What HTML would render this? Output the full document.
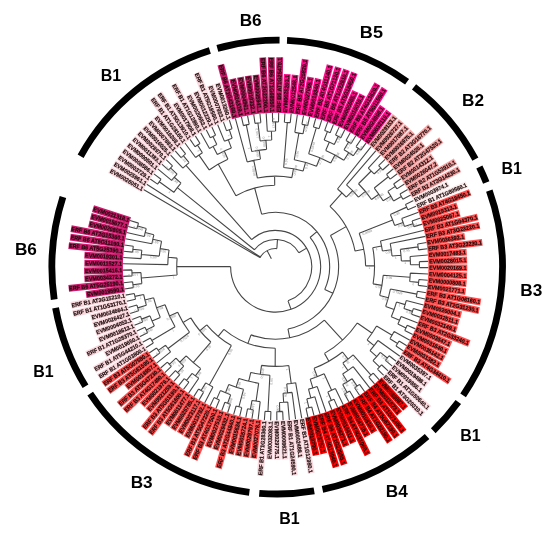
<!DOCTYPE html>
<html><head><meta charset="utf-8"><style>
html,body{margin:0;padding:0;background:#fff;}
svg{display:block;}
#w{width:550px;height:535px;}
</style></head><body><div id="w">
<svg width="550" height="535" viewBox="0 0 550 535">
<rect width="550" height="535" fill="#fff"/>
<g>
<g fill="none" stroke="#464646" stroke-width="1.1" transform="translate(275.65,266.75) scale(1,1.0072)">
<path d="M-118.09,-82.06A143.80,143.80 0 0 1 -114.63,-86.83M-118.09,-82.06L-125.44,-87.17M-114.63,-86.83L-121.76,-92.23M-107.14,-95.92A143.80,143.80 0 0 1 -103.12,-100.23M-107.14,-95.92L-113.80,-101.89M-103.12,-100.23L-109.54,-106.46M-104.05,-85.74A134.82,134.82 0 0 1 -98.58,-91.97M-104.05,-85.74L-117.88,-97.14M-98.58,-91.97L-105.15,-98.09M-101.85,-73.91A125.84,125.84 0 0 1 -94.61,-82.97M-101.85,-73.91L-116.38,-84.46M-94.61,-82.97L-101.36,-88.89M-94.57,-108.33A143.80,143.80 0 0 1 -90.05,-112.11M-94.57,-108.33L-100.45,-115.07M-90.05,-112.11L-95.66,-119.09M-92.75,-97.85A134.82,134.82 0 0 1 -86.56,-103.36M-92.75,-97.85L-105.08,-110.86M-86.56,-103.36L-92.33,-110.24M-80.57,-119.11A143.80,143.80 0 0 1 -75.63,-122.31M-80.57,-119.11L-85.59,-126.52M-75.63,-122.31L-80.33,-129.92M-80.05,-108.48A134.82,134.82 0 0 1 -73.24,-113.19M-80.05,-108.48L-90.70,-122.91M-73.24,-113.19L-78.12,-120.73M-65.36,-128.09A143.80,143.80 0 0 1 -60.06,-130.66M-65.36,-128.09L-69.43,-136.06M-60.06,-130.66L-63.80,-138.79M-66.15,-117.48A134.82,134.82 0 0 1 -58.81,-121.32M-66.15,-117.48L-74.94,-133.10M-58.81,-121.32L-62.72,-129.40M-49.16,-135.13A143.80,143.80 0 0 1 -43.59,-137.03M-49.16,-135.13L-52.22,-143.54M-43.59,-137.03L-46.30,-145.56M-51.25,-124.70A134.82,134.82 0 0 1 -43.49,-127.61M-51.25,-124.70L-58.06,-141.29M-43.49,-127.61L-46.39,-136.11M-58.34,-111.50A125.84,125.84 0 0 1 -44.23,-117.81M-58.34,-111.50L-62.51,-119.45M-44.23,-117.81L-47.39,-126.22M-66.47,-96.12A116.86,116.86 0 0 1 -47.72,-106.67M-66.47,-96.12L-76.68,-110.89M-47.72,-106.67L-51.39,-114.87M-32.23,-140.14A143.80,143.80 0 0 1 -26.46,-141.34M-32.23,-140.14L-34.23,-148.86M-26.46,-141.34L-28.11,-150.14M-20.65,-142.31A143.80,143.80 0 0 1 -14.80,-143.04M-20.65,-142.31L-21.93,-151.17M-14.80,-143.04L-15.72,-151.94M-3.04,-143.77A143.80,143.80 0 0 1 2.85,-143.77M-3.04,-143.77L-3.23,-152.72M2.85,-143.77L3.03,-152.72M-8.37,-134.56A134.82,134.82 0 0 1 -0.09,-134.82M-8.37,-134.56L-9.48,-152.46M-0.09,-134.82L-0.10,-143.80M-15.51,-124.88A125.84,125.84 0 0 1 -3.95,-125.78M-15.51,-124.88L-17.73,-142.70M-3.95,-125.78L-4.23,-134.75M-23.85,-114.40A116.86,116.86 0 0 1 -9.05,-116.51M-23.85,-114.40L-29.35,-140.77M-9.05,-116.51L-9.74,-125.46M-28.46,-104.06A107.88,107.88 0 0 1 -15.22,-106.80M-28.46,-104.06L-40.30,-147.34M-15.22,-106.80L-16.48,-115.69M8.73,-143.53A143.80,143.80 0 0 1 14.61,-143.06M8.73,-143.53L9.28,-152.47M14.61,-143.06L15.52,-151.96M26.27,-141.38A143.80,143.80 0 0 1 32.04,-140.19M26.27,-141.38L27.90,-150.18M32.04,-140.19L34.03,-148.91M19.18,-133.45A134.82,134.82 0 0 1 27.34,-132.02M19.18,-133.45L21.73,-151.20M27.34,-132.02L29.16,-140.81M37.75,-138.76A143.80,143.80 0 0 1 43.40,-137.09M37.75,-138.76L40.10,-147.39M43.40,-137.09L46.10,-145.63M48.98,-135.20A143.80,143.80 0 0 1 54.48,-133.08M48.98,-135.20L52.03,-143.62M54.48,-133.08L57.87,-141.36M59.88,-130.74A143.80,143.80 0 0 1 65.19,-128.18M59.88,-130.74L63.61,-138.87M65.19,-128.18L69.25,-136.15M48.51,-125.79A134.82,134.82 0 0 1 58.64,-121.40M48.51,-125.79L51.74,-134.17M58.64,-121.40L62.55,-129.48M70.38,-125.40A143.80,143.80 0 0 1 75.46,-122.41M70.38,-125.40L74.76,-133.20M75.46,-122.41L80.16,-130.03M80.41,-119.22A143.80,143.80 0 0 1 85.23,-115.82M80.41,-119.22L85.42,-126.64M85.23,-115.82L90.53,-123.03M68.38,-116.19A134.82,134.82 0 0 1 77.66,-110.20M68.38,-116.19L72.94,-123.93M77.66,-110.20L82.84,-117.54M50.05,-115.46A125.84,125.84 0 0 1 68.22,-105.75M50.05,-115.46L53.62,-123.70M68.22,-105.75L73.09,-113.29M32.98,-112.11A116.86,116.86 0 0 1 55.10,-103.06M32.98,-112.11L40.59,-137.95M55.10,-103.06L59.33,-110.97M18.62,-106.26A107.88,107.88 0 0 1 40.87,-99.84M18.62,-106.26L23.27,-132.80M40.87,-99.84L44.27,-108.15M8.03,-98.57A98.90,98.90 0 0 1 27.43,-95.02M8.03,-98.57L11.67,-143.33M27.43,-95.02L29.92,-103.65M-18.24,-88.05A89.92,89.92 0 0 1 16.20,-88.45M-18.24,-88.05L-21.88,-105.64M16.20,-88.45L17.82,-97.28M-39.71,-70.53A80.94,80.94 0 0 1 -0.94,-80.93M-39.71,-70.53L-57.34,-101.83M-0.94,-80.93L-1.04,-89.91M102.98,-100.36A143.80,143.80 0 0 1 107.01,-96.06M102.98,-100.36L109.39,-106.61M107.01,-96.06L113.67,-102.04M92.62,-97.97A134.82,134.82 0 0 1 98.46,-92.10M92.62,-97.97L104.93,-111.00M98.46,-92.10L105.02,-98.23M110.85,-91.60A143.80,143.80 0 0 1 114.51,-86.98M110.85,-91.60L117.75,-97.30M114.51,-86.98L121.64,-92.39M117.98,-82.22A143.80,143.80 0 0 1 121.25,-77.32M117.98,-82.22L125.32,-87.34M121.25,-77.32L128.79,-82.13M124.31,-72.29A143.80,143.80 0 0 1 127.17,-67.13M124.31,-72.29L132.05,-76.78M127.17,-67.13L135.08,-71.31M112.17,-74.80A134.82,134.82 0 0 1 117.91,-65.37M112.17,-74.80L119.64,-79.78M117.91,-65.37L125.77,-69.72M98.63,-78.15A125.84,125.84 0 0 1 107.47,-65.47M98.63,-78.15L112.70,-89.31M107.47,-65.47L115.14,-70.14M82.85,-82.41A116.86,116.86 0 0 1 95.88,-66.81M82.85,-82.41L95.58,-95.08M95.88,-66.81L103.24,-71.95M70.84,-81.37A107.88,107.88 0 0 1 82.81,-69.14M70.84,-81.37L100.30,-115.21M82.81,-69.14L89.70,-74.90M61.83,-77.19A98.90,98.90 0 0 1 70.65,-69.21M61.83,-77.19L95.50,-119.22M70.65,-69.21L77.07,-75.49M129.81,-61.87A143.80,143.80 0 0 1 132.24,-56.50M129.81,-61.87L137.89,-65.72M132.24,-56.50L140.47,-60.02M136.42,-45.49A143.80,143.80 0 0 1 138.17,-39.86M136.42,-45.49L144.91,-48.32M138.17,-39.86L146.76,-42.34M126.04,-47.85A134.82,134.82 0 0 1 128.74,-40.02M126.04,-47.85L142.81,-54.21M128.74,-40.02L137.32,-42.68M114.68,-51.80A125.84,125.84 0 0 1 118.96,-41.03M114.68,-51.80L131.05,-59.20M118.96,-41.03L127.45,-43.95M142.01,-22.62A143.80,143.80 0 0 1 142.82,-16.78M142.01,-22.62L150.85,-24.03M142.82,-16.78L151.71,-17.83M143.71,-5.04A143.80,143.80 0 0 1 143.80,0.85M143.71,-5.04L152.66,-5.35M143.80,0.85L152.75,0.91M134.43,-10.24A134.82,134.82 0 0 1 134.81,-1.96M134.43,-10.24L152.31,-11.60M134.81,-1.96L143.78,-2.09M124.65,-17.24A125.84,125.84 0 0 1 125.71,-5.70M124.65,-17.24L142.44,-19.71M125.71,-5.70L134.68,-6.10M114.56,-23.09A116.86,116.86 0 0 1 116.37,-10.66M114.56,-23.09L149.74,-30.19M116.37,-10.66L125.32,-11.48M104.79,-25.63A107.88,107.88 0 0 1 106.75,-15.60M104.79,-25.63L148.38,-36.29M106.75,-15.60L115.63,-16.90M143.25,12.62A143.80,143.80 0 0 1 142.61,18.48M143.25,12.62L152.16,13.41M142.61,18.48L151.48,19.63M134.67,6.32A134.82,134.82 0 0 1 134.03,14.58M134.67,6.32L152.58,7.16M134.03,14.58L142.96,15.55M141.73,24.30A143.80,143.80 0 0 1 140.62,30.09M141.73,24.30L150.55,25.82M140.62,30.09L149.37,31.96M137.68,41.50A143.80,143.80 0 0 1 135.87,47.10M137.68,41.50L146.25,44.08M135.87,47.10L144.32,50.03M130.57,33.59A134.82,134.82 0 0 1 128.26,41.54M130.57,33.59L147.93,38.05M128.26,41.54L136.80,44.31M131.56,58.06A143.80,143.80 0 0 1 129.07,63.40M131.56,58.06L139.74,61.68M129.07,63.40L137.10,67.35M125.47,49.34A134.82,134.82 0 0 1 122.20,56.95M125.47,49.34L142.15,55.90M122.20,56.95L130.34,60.75M120.85,35.08A125.84,125.84 0 0 1 115.64,49.63M120.85,35.08L129.48,37.58M115.64,49.63L123.89,53.17M114.75,22.11A116.86,116.86 0 0 1 110.02,39.41M114.75,22.11L141.20,27.20M110.02,39.41L118.47,42.43M107.56,8.37A107.88,107.88 0 0 1 104.05,28.48M107.56,8.37L134.41,10.46M104.05,28.48L112.72,30.85M97.07,-18.92A98.90,98.90 0 0 1 97.43,16.96M97.07,-18.92L105.89,-20.64M97.43,16.96L106.28,18.50M83.57,-33.20A89.92,89.92 0 0 1 89.92,-0.91M83.57,-33.20L116.95,-46.46M89.92,-0.91L98.89,-1.00M54.31,-60.01A80.94,80.94 0 0 1 79.42,-15.61M54.31,-60.01L66.36,-73.33M79.42,-15.61L88.23,-17.35M123.44,73.76A143.80,143.80 0 0 1 120.32,78.75M123.44,73.76L131.13,78.35M120.32,78.75L127.81,83.65M118.47,64.35A134.82,134.82 0 0 1 114.29,71.51M118.47,64.35L134.23,72.91M114.29,71.51L121.91,76.27M113.47,88.33A143.80,143.80 0 0 1 109.76,92.91M113.47,88.33L120.53,93.83M109.76,92.91L116.59,98.69M105.86,97.33A143.80,143.80 0 0 1 101.78,101.58M105.86,97.33L112.45,103.38M101.78,101.58L108.12,107.90M104.67,84.98A134.82,134.82 0 0 1 97.36,93.26M104.67,84.98L111.64,90.64M97.36,93.26L103.84,99.47M102.38,73.17A125.84,125.84 0 0 1 94.36,83.25M102.38,73.17L124.27,88.82M94.36,83.25L101.10,89.20M100.93,58.91A116.86,116.86 0 0 1 91.47,72.73M100.93,58.91L116.44,67.96M91.47,72.73L98.50,78.31M97.54,105.66A143.80,143.80 0 0 1 93.13,109.57M97.54,105.66L103.61,112.24M93.13,109.57L98.92,116.39M83.85,116.83A143.80,143.80 0 0 1 78.99,120.16M83.85,116.83L89.07,124.10M78.99,120.16L83.91,127.64M74.00,123.30A143.80,143.80 0 0 1 68.89,126.22M74.00,123.30L78.61,130.97M68.89,126.22L73.18,134.08M76.35,111.12A134.82,134.82 0 0 1 67.00,116.99M76.35,111.12L81.44,118.52M67.00,116.99L71.46,124.79M77.50,99.14A125.84,125.84 0 0 1 66.96,106.55M77.50,99.14L94.07,120.34M66.96,106.55L71.74,114.15M77.49,87.47A116.86,116.86 0 0 1 67.16,95.63M77.49,87.47L95.35,107.64M67.16,95.63L72.32,102.98M58.33,131.44A143.80,143.80 0 0 1 52.90,133.72M58.33,131.44L61.96,139.62M52.90,133.72L56.19,142.04M59.69,120.89A134.82,134.82 0 0 1 52.15,124.33M59.69,120.89L67.63,136.96M52.15,124.33L55.62,132.61M36.10,139.19A143.80,143.80 0 0 1 30.37,140.56M36.10,139.19L38.35,147.86M30.37,140.56L32.26,149.30M39.16,129.01A134.82,134.82 0 0 1 31.17,131.17M39.16,129.01L44.37,146.16M31.17,131.17L33.24,139.90M41.46,118.82A125.84,125.84 0 0 1 32.84,121.48M41.46,118.82L50.32,144.22M32.84,121.48L35.18,130.15M48.49,106.32A116.86,116.86 0 0 1 34.52,111.65M48.49,106.32L55.95,122.66M34.52,111.65L37.17,120.22M66.87,84.65A107.88,107.88 0 0 1 38.40,100.82M66.87,84.65L72.44,91.70M38.40,100.82L41.59,109.21M81.62,55.84A98.90,98.90 0 0 1 48.82,86.01M81.62,55.84L96.45,65.99M48.82,86.01L53.25,93.82M7.03,143.63A143.80,143.80 0 0 1 1.14,143.80M7.03,143.63L7.47,152.57M1.14,143.80L1.21,152.75M12.10,134.28A134.82,134.82 0 0 1 3.83,134.77M12.10,134.28L13.71,152.13M3.83,134.77L4.09,143.74M16.42,124.76A125.84,125.84 0 0 1 7.44,125.62M16.42,124.76L19.93,151.44M7.44,125.62L7.97,134.58M19.98,115.14A116.86,116.86 0 0 1 11.09,116.33M19.98,115.14L26.12,150.50M11.09,116.33L11.94,125.27M-4.75,143.72A143.80,143.80 0 0 1 -10.63,143.41M-4.75,143.72L-5.04,152.67M-10.63,143.41L-11.29,152.33M-22.33,142.06A143.80,143.80 0 0 1 -28.13,141.02M-22.33,142.06L-23.72,150.90M-28.13,141.02L-29.89,149.80M-15.47,133.93A134.82,134.82 0 0 1 -23.66,132.73M-15.47,133.93L-17.52,151.74M-23.66,132.73L-25.24,141.57M-33.89,139.75A143.80,143.80 0 0 1 -39.58,138.24M-33.89,139.75L-36.00,148.45M-39.58,138.24L-42.05,146.85M-45.21,136.51A143.80,143.80 0 0 1 -50.77,134.54M-45.21,136.51L-48.03,145.00M-50.77,134.54L-53.92,142.91M-56.23,132.35A143.80,143.80 0 0 1 -61.61,129.93M-56.23,132.35L-59.73,140.59M-61.61,129.93L-65.44,138.02M-45.00,127.09A134.82,134.82 0 0 1 -55.25,122.98M-45.00,127.09L-48.00,135.55M-55.25,122.98L-58.93,131.17M-32.15,121.66A125.84,125.84 0 0 1 -46.83,116.80M-32.15,121.66L-36.74,139.03M-46.83,116.80L-50.17,125.14M-16.97,115.62A116.86,116.86 0 0 1 -36.74,110.93M-16.97,115.62L-19.57,133.39M-36.74,110.93L-39.56,119.46M-5.77,107.73A107.88,107.88 0 0 1 -24.88,104.97M-5.77,107.73L-7.69,143.59M-24.88,104.97L-26.96,113.71M13.16,98.02A98.90,98.90 0 0 1 -14.11,97.89M13.16,98.02L15.54,115.82M-14.11,97.89L-15.39,106.78M-72.04,124.46A143.80,143.80 0 0 1 -77.07,121.40M-72.04,124.46L-76.52,132.20M-77.07,121.40L-81.87,128.96M-62.70,119.35A134.82,134.82 0 0 1 -69.91,115.28M-62.70,119.35L-71.04,135.23M-69.91,115.28L-74.57,122.95M-86.75,114.68A143.80,143.80 0 0 1 -91.38,111.04M-86.75,114.68L-92.15,121.82M-91.38,111.04L-97.06,117.95M-76.86,110.76A134.82,134.82 0 0 1 -83.52,105.83M-76.86,110.76L-87.08,125.50M-83.52,105.83L-89.08,112.88M-95.85,107.20A143.80,143.80 0 0 1 -100.16,103.18M-95.85,107.20L-101.81,113.87M-100.16,103.18L-106.39,109.61M-104.30,98.99A143.80,143.80 0 0 1 -108.27,94.64M-104.30,98.99L-110.79,105.16M-108.27,94.64L-115.01,100.53M-91.90,98.64A134.82,134.82 0 0 1 -99.67,90.79M-91.90,98.64L-98.02,105.21M-99.67,90.79L-106.31,96.84M-74.88,101.13A125.84,125.84 0 0 1 -89.48,88.48M-74.88,101.13L-80.23,108.35M-89.48,88.48L-95.87,94.80M-115.65,85.46A143.80,143.80 0 0 1 -119.05,80.65M-115.65,85.46L-122.85,90.78M-119.05,80.65L-126.46,85.67M-105.06,84.50A134.82,134.82 0 0 1 -110.05,77.89M-105.06,84.50L-119.03,95.73M-110.05,77.89L-117.38,83.07M-122.26,75.71A143.80,143.80 0 0 1 -125.26,70.64M-122.26,75.71L-129.87,80.42M-125.26,70.64L-133.05,75.03M-128.04,65.45A143.80,143.80 0 0 1 -130.62,60.15M-128.04,65.45L-136.01,69.52M-130.62,60.15L-138.75,63.89M-132.97,54.75A143.80,143.80 0 0 1 -135.10,49.25M-132.97,54.75L-141.25,58.15M-135.10,49.25L-143.51,52.32M-121.28,58.89A134.82,134.82 0 0 1 -125.69,48.76M-121.28,58.89L-129.36,62.81M-125.69,48.76L-134.06,52.01M-137.01,43.68A143.80,143.80 0 0 1 -138.68,38.03M-137.01,43.68L-145.53,46.40M-138.68,38.03L-147.31,40.40M-140.12,32.32A143.80,143.80 0 0 1 -141.33,26.55M-140.12,32.32L-148.84,34.33M-141.33,26.55L-150.12,28.20M-129.26,38.31A134.82,134.82 0 0 1 -131.96,27.60M-129.26,38.31L-137.87,40.86M-131.96,27.60L-140.75,29.44M-115.36,50.28A125.84,125.84 0 0 1 -122.02,30.79M-115.36,50.28L-123.59,53.87M-122.02,30.79L-130.72,32.98M-100.59,59.48A116.86,116.86 0 0 1 -110.59,37.77M-100.59,59.48L-123.78,73.19M-110.59,37.77L-119.09,40.67M-86.10,65.00A107.88,107.88 0 0 1 -97.99,45.12M-86.10,65.00L-107.60,81.23M-97.99,45.12L-106.15,48.88M-64.78,74.73A98.90,98.90 0 0 1 -84.87,50.77M-64.78,74.73L-82.43,95.09M-84.87,50.77L-92.58,55.38M-44.25,78.28A89.92,89.92 0 0 1 -68.90,57.78M-44.25,78.28L-66.34,117.37M-68.90,57.78L-75.78,63.55M-0.39,80.94A80.94,80.94 0 0 1 -51.75,62.23M-0.39,80.94L-0.48,98.90M-51.75,62.23L-57.49,69.14M48.71,52.97A71.96,71.96 0 0 1 -24.63,67.62M48.71,52.97L66.94,72.80M-24.63,67.62L-27.70,76.05M54.82,-31.00A62.98,62.98 0 0 1 12.33,61.76M54.82,-31.00L70.45,-39.84M12.33,61.76L14.09,70.57M-14.00,-52.15A54.00,54.00 0 0 1 49.10,22.49M-14.00,-52.15L-20.98,-78.17M49.10,22.49L57.26,26.23M-142.30,20.74A143.80,143.80 0 0 1 -143.03,14.89M-142.30,20.74L-151.15,22.03M-143.03,14.89L-151.93,15.82M-143.52,9.02A143.80,143.80 0 0 1 -143.77,3.14M-143.52,9.02L-152.45,9.58M-143.77,3.14L-152.71,3.33M-133.78,16.71A134.82,134.82 0 0 1 -134.70,5.70M-133.78,16.71L-142.69,17.82M-134.70,5.70L-143.67,6.08M-143.07,-14.51A143.80,143.80 0 0 1 -142.35,-20.36M-143.07,-14.51L-151.97,-15.42M-142.35,-20.36L-151.21,-21.63M-134.58,-8.10A134.82,134.82 0 0 1 -133.82,-16.35M-134.58,-8.10L-152.47,-9.18M-133.82,-16.35L-142.74,-17.44M-138.78,-37.66A143.80,143.80 0 0 1 -137.12,-43.31M-138.78,-37.66L-147.42,-40.00M-137.12,-43.31L-145.66,-46.01M-131.45,-29.95A134.82,134.82 0 0 1 -129.36,-37.97M-131.45,-29.95L-148.93,-33.93M-129.36,-37.97L-137.98,-40.50M-123.74,-22.91A125.84,125.84 0 0 1 -121.78,-31.71M-123.74,-22.91L-150.20,-27.80M-121.78,-31.71L-130.47,-33.97M-116.38,-10.60A116.86,116.86 0 0 1 -114.07,-25.38M-116.38,-10.60L-134.26,-12.23M-114.07,-25.38L-122.84,-27.33M-107.86,-2.07A107.88,107.88 0 0 1 -106.59,-16.64M-107.86,-2.07L-152.72,-2.93M-106.59,-16.64L-115.46,-18.03M-98.56,8.23A98.90,98.90 0 0 1 -98.53,-8.59M-98.56,8.23L-134.35,11.21M-98.53,-8.59L-107.47,-9.38M34.38,-29.06A45.02,45.02 0 1 1 -45.02,-0.08M34.38,-29.06L41.24,-34.86M-45.02,-0.08L-98.90,-0.18M-23.98,-26.91A36.04,36.04 0 1 1 12.36,33.86M-23.98,-26.91L-89.70,-100.65M12.36,33.86L15.43,42.29M-21.15,-16.89A27.06,27.06 0 0 1 23.22,-13.89M-21.15,-16.89L-98.33,-78.53M23.22,-13.89L30.93,-18.50M-15.64,-9.07A18.08,18.08 0 0 1 1.22,-18.04M-15.64,-9.07L-132.15,-76.61M-15.26,-9.70L-128.90,-81.95M1.22,-18.04L1.82,-27.00M-4.27,-8.03L-8.49,-15.96"/>
</g>
<g transform="translate(275.65,266.75) scale(1,1.0072)" font-family="Liberation Sans, Arial, sans-serif" font-size="3.3" fill="#8e8e8e">
<text transform="rotate(403.01)" x="-137.62" y="3.2" text-anchor="end">0.9998</text>
<text transform="rotate(395.97)" x="-128.64" y="3.2" text-anchor="end">1</text>
<text transform="rotate(401.25)" x="-128.64" y="3.2" text-anchor="end">0.99</text>
<text transform="rotate(410.05)" x="-137.62" y="3.2" text-anchor="end">0.99</text>
<text transform="rotate(417.10)" x="-137.62" y="3.2" text-anchor="end">1</text>
<text transform="rotate(431.18)" x="-137.62" y="3.2" text-anchor="end">1</text>
<text transform="rotate(425.90)" x="-119.66" y="3.2" text-anchor="end">0.7926</text>
<text transform="rotate(449.96)" x="-137.62" y="3.2" text-anchor="end">0.9977</text>
<text transform="rotate(442.92)" x="-128.64" y="3.2" text-anchor="end">0.9977</text>
<text transform="rotate(448.20)" x="-128.64" y="3.2" text-anchor="end">1</text>
<text transform="rotate(438.22)" x="-119.66" y="3.2" text-anchor="end">1</text>
<text transform="rotate(445.56)" x="-119.66" y="3.2" text-anchor="end">0.9999</text>
<text transform="rotate(441.89)" x="-110.68" y="3.2" text-anchor="end">0.9999</text>
<text transform="rotate(281.70)" x="137.62" y="3.2">0.9977</text>
<text transform="rotate(295.78)" x="137.62" y="3.2">0.9977</text>
<text transform="rotate(300.48)" x="137.62" y="3.2">0.7926</text>
<text transform="rotate(305.17)" x="137.62" y="3.2">0.8848</text>
<text transform="rotate(302.83)" x="128.64" y="3.2">0.7926</text>
<text transform="rotate(286.39)" x="119.66" y="3.2">0.8848</text>
<text transform="rotate(298.13)" x="119.66" y="3.2">0.9998</text>
<text transform="rotate(279.94)" x="110.68" y="3.2">0.96</text>
<text transform="rotate(292.26)" x="110.68" y="3.2">0.7926</text>
<text transform="rotate(274.66)" x="101.70" y="3.2">0.95</text>
<text transform="rotate(286.10)" x="101.70" y="3.2">0.99</text>
<text transform="rotate(438.30)" x="-92.72" y="3.2" text-anchor="end">0.8848</text>
<text transform="rotate(280.38)" x="92.72" y="3.2">0.9998</text>
<text transform="rotate(316.91)" x="137.62" y="3.2">0.98</text>
<text transform="rotate(328.65)" x="128.64" y="3.2">0.96</text>
<text transform="rotate(325.13)" x="119.66" y="3.2">0.8848</text>
<text transform="rotate(320.14)" x="110.68" y="3.2">0.9998</text>
<text transform="rotate(315.59)" x="101.70" y="3.2">0.9998</text>
<text transform="rotate(342.73)" x="137.62" y="3.2">0.9977</text>
<text transform="rotate(335.69)" x="128.64" y="3.2">0.99</text>
<text transform="rotate(340.97)" x="128.64" y="3.2">0.98</text>
<text transform="rotate(352.12)" x="128.64" y="3.2">0.95</text>
<text transform="rotate(357.41)" x="128.64" y="3.2">1</text>
<text transform="rotate(354.76)" x="119.66" y="3.2">1</text>
<text transform="rotate(351.68)" x="110.68" y="3.2">0.98</text>
<text transform="rotate(366.21)" x="137.62" y="3.2">1</text>
<text transform="rotate(377.95)" x="137.62" y="3.2">0.96</text>
<text transform="rotate(376.19)" x="128.64" y="3.2">1</text>
<text transform="rotate(370.90)" x="119.66" y="3.2">0.7926</text>
<text transform="rotate(364.45)" x="110.68" y="3.2">0.96</text>
<text transform="rotate(375.31)" x="110.68" y="3.2">0.98</text>
<text transform="rotate(348.97)" x="101.70" y="3.2">1</text>
<text transform="rotate(369.88)" x="101.70" y="3.2">0.98</text>
<text transform="rotate(338.33)" x="92.72" y="3.2">0.9998</text>
<text transform="rotate(359.42)" x="92.72" y="3.2">1</text>
<text transform="rotate(399.07)" x="137.62" y="3.2">0.9999</text>
<text transform="rotate(398.49)" x="119.66" y="3.2">1</text>
<text transform="rotate(415.51)" x="137.62" y="3.2">0.9977</text>
<text transform="rotate(420.20)" x="137.62" y="3.2">0.9999</text>
<text transform="rotate(417.85)" x="128.64" y="3.2">0.8848</text>
<text transform="rotate(408.46)" x="119.66" y="3.2">1</text>
<text transform="rotate(414.92)" x="119.66" y="3.2">1</text>
<text transform="rotate(427.24)" x="137.62" y="3.2">1</text>
<text transform="rotate(436.63)" x="137.62" y="3.2">1</text>
<text transform="rotate(425.48)" x="119.66" y="3.2">1</text>
<text transform="rotate(411.69)" x="110.68" y="3.2">0.7926</text>
<text transform="rotate(429.15)" x="110.68" y="3.2">0.99</text>
<text transform="rotate(448.37)" x="137.62" y="3.2">0.99</text>
<text transform="rotate(444.56)" x="119.66" y="3.2">0.7926</text>
<text transform="rotate(640.11)" x="-137.62" y="3.2" text-anchor="end">0.9999</text>
<text transform="rotate(649.50)" x="-137.62" y="3.2" text-anchor="end">0.9998</text>
<text transform="rotate(644.80)" x="-128.64" y="3.2" text-anchor="end">0.96</text>
<text transform="rotate(651.85)" x="-128.64" y="3.2" text-anchor="end">0.96</text>
<text transform="rotate(648.33)" x="-119.66" y="3.2" text-anchor="end">0.99</text>
<text transform="rotate(633.07)" x="-110.68" y="3.2" text-anchor="end">0.95</text>
<text transform="rotate(442.36)" x="101.70" y="3.2">1</text>
<text transform="rotate(638.20)" x="-101.70" y="3.2" text-anchor="end">0.8848</text>
<text transform="rotate(661.24)" x="-137.62" y="3.2" text-anchor="end">0.95</text>
<text transform="rotate(668.28)" x="-137.62" y="3.2" text-anchor="end">1</text>
<text transform="rotate(672.97)" x="-137.62" y="3.2" text-anchor="end">0.98</text>
<text transform="rotate(677.67)" x="-137.62" y="3.2" text-anchor="end">0.99</text>
<text transform="rotate(666.52)" x="-128.64" y="3.2" text-anchor="end">0.98</text>
<text transform="rotate(675.32)" x="-128.64" y="3.2" text-anchor="end">0.9999</text>
<text transform="rotate(684.71)" x="-137.62" y="3.2" text-anchor="end">0.7926</text>
<text transform="rotate(694.10)" x="-137.62" y="3.2" text-anchor="end">0.8848</text>
<text transform="rotate(698.80)" x="-137.62" y="3.2" text-anchor="end">0.7926</text>
<text transform="rotate(703.49)" x="-137.62" y="3.2" text-anchor="end">0.7926</text>
<text transform="rotate(708.19)" x="-137.62" y="3.2" text-anchor="end">1</text>
<text transform="rotate(705.84)" x="-128.64" y="3.2" text-anchor="end">0.96</text>
<text transform="rotate(689.41)" x="-119.66" y="3.2" text-anchor="end">1</text>
<text transform="rotate(701.14)" x="-119.66" y="3.2" text-anchor="end">0.98</text>
<text transform="rotate(682.95)" x="-110.68" y="3.2" text-anchor="end">0.7926</text>
<text transform="rotate(695.27)" x="-110.68" y="3.2" text-anchor="end">0.9998</text>
<text transform="rotate(670.92)" x="-101.70" y="3.2" text-anchor="end">0.95</text>
<text transform="rotate(659.48)" x="-92.72" y="3.2" text-anchor="end">0.99</text>
<text transform="rotate(680.02)" x="-92.72" y="3.2" text-anchor="end">0.7926</text>
<text transform="rotate(712.88)" x="-137.62" y="3.2" text-anchor="end">0.96</text>
<text transform="rotate(717.58)" x="-137.62" y="3.2" text-anchor="end">0.9977</text>
<text transform="rotate(726.97)" x="-137.62" y="3.2" text-anchor="end">0.96</text>
<text transform="rotate(736.36)" x="-137.62" y="3.2" text-anchor="end">0.9998</text>
<text transform="rotate(734.60)" x="-128.64" y="3.2" text-anchor="end">0.99</text>
<text transform="rotate(725.21)" x="-119.66" y="3.2" text-anchor="end">0.99</text>
<text transform="rotate(732.54)" x="-119.66" y="3.2" text-anchor="end">0.95</text>
<text transform="rotate(728.87)" x="-110.68" y="3.2" text-anchor="end">0.96</text>
<text transform="rotate(715.23)" x="-101.70" y="3.2" text-anchor="end">1</text>
</g>
<g transform="translate(275.65,266.75) scale(1,1.0072)" font-family="Liberation Sans, Arial, sans-serif" font-weight="bold" font-size="5.7" fill="#1a0808" stroke="#1a0808" stroke-width="0.16">
<g transform="rotate(210.100)"><rect x="152.75" y="-3.4" width="38.84" height="6.8" fill="#f9d8de" stroke="none"/><text transform="rotate(180)" x="-153.55" y="2.05" text-anchor="end" textLength="37.27" lengthAdjust="spacingAndGlyphs">EVM0026051.1</text></g>
<g transform="rotate(212.447)"><rect x="152.75" y="-3.4" width="38.84" height="6.8" fill="#f9d8de" stroke="none"/><text transform="rotate(180)" x="-153.55" y="2.05" text-anchor="end" textLength="37.27" lengthAdjust="spacingAndGlyphs">EVM0025961.1</text></g>
<g transform="rotate(214.795)"><rect x="152.75" y="-3.4" width="38.84" height="6.8" fill="#f9d8de" stroke="none"/><text transform="rotate(180)" x="-153.55" y="2.05" text-anchor="end" textLength="37.27" lengthAdjust="spacingAndGlyphs">EVM0003729.1</text></g>
<g transform="rotate(217.142)"><rect x="152.75" y="-3.4" width="38.84" height="6.8" fill="#f9d8de" stroke="none"/><text transform="rotate(180)" x="-153.55" y="2.05" text-anchor="end" textLength="37.27" lengthAdjust="spacingAndGlyphs">EVM0008586.1</text></g>
<g transform="rotate(219.490)"><rect x="152.75" y="-3.4" width="38.84" height="6.8" fill="#f9d8de" stroke="none"/><text transform="rotate(180)" x="-153.55" y="2.05" text-anchor="end" textLength="37.27" lengthAdjust="spacingAndGlyphs">EVM0000501.1</text></g>
<g transform="rotate(221.838)"><rect x="152.75" y="-3.4" width="38.54" height="6.8" fill="#f9d8de" stroke="none"/><text transform="rotate(180)" x="-153.55" y="2.05" text-anchor="end" textLength="36.97" lengthAdjust="spacingAndGlyphs">EVM0011383.1</text></g>
<g transform="rotate(224.185)"><rect x="152.75" y="-3.4" width="38.84" height="6.8" fill="#f9d8de" stroke="none"/><text transform="rotate(180)" x="-153.55" y="2.05" text-anchor="end" textLength="37.27" lengthAdjust="spacingAndGlyphs">EVM0028970.1</text></g>
<g transform="rotate(226.532)"><rect x="152.75" y="-3.4" width="38.84" height="6.8" fill="#f9d8de" stroke="none"/><text transform="rotate(180)" x="-153.55" y="2.05" text-anchor="end" textLength="37.27" lengthAdjust="spacingAndGlyphs">EVM0016025.1</text></g>
<g transform="rotate(228.880)"><rect x="152.75" y="-3.4" width="38.84" height="6.8" fill="#f9d8de" stroke="none"/><text transform="rotate(180)" x="-153.55" y="2.05" text-anchor="end" textLength="37.27" lengthAdjust="spacingAndGlyphs">EVM0007883.1</text></g>
<g transform="rotate(231.227)"><rect x="152.75" y="-3.4" width="38.84" height="6.8" fill="#f9d8de" stroke="none"/><text transform="rotate(180)" x="-153.55" y="2.05" text-anchor="end" textLength="37.27" lengthAdjust="spacingAndGlyphs">EVM0016208.1</text></g>
<g transform="rotate(233.575)"><rect x="152.75" y="-3.4" width="55.32" height="6.8" fill="#f9d8de" stroke="none"/><text transform="rotate(180)" x="-153.55" y="2.05" text-anchor="end" textLength="54.08" lengthAdjust="spacingAndGlyphs">ERF B1 AT1G28160.1</text></g>
<g transform="rotate(235.922)"><rect x="152.75" y="-3.4" width="55.32" height="6.8" fill="#f9d8de" stroke="none"/><text transform="rotate(180)" x="-153.55" y="2.05" text-anchor="end" textLength="54.08" lengthAdjust="spacingAndGlyphs">ERF B1 AT5G13910.1</text></g>
<g transform="rotate(238.270)"><rect x="152.75" y="-3.4" width="38.84" height="6.8" fill="#f9d8de" stroke="none"/><text transform="rotate(180)" x="-153.55" y="2.05" text-anchor="end" textLength="37.27" lengthAdjust="spacingAndGlyphs">EVM0017908.1</text></g>
<g transform="rotate(240.618)"><rect x="152.75" y="-3.4" width="55.32" height="6.8" fill="#f9d8de" stroke="none"/><text transform="rotate(180)" x="-153.55" y="2.05" text-anchor="end" textLength="54.08" lengthAdjust="spacingAndGlyphs">ERF B1 AT1G12890.1</text></g>
<g transform="rotate(242.965)"><rect x="152.75" y="-3.4" width="38.84" height="6.8" fill="#f9d8de" stroke="none"/><text transform="rotate(180)" x="-153.55" y="2.05" text-anchor="end" textLength="37.27" lengthAdjust="spacingAndGlyphs">EVM0020653.1</text></g>
<g transform="rotate(245.312)"><rect x="152.75" y="-3.4" width="38.84" height="6.8" fill="#f9d8de" stroke="none"/><text transform="rotate(180)" x="-153.55" y="2.05" text-anchor="end" textLength="37.27" lengthAdjust="spacingAndGlyphs">EVM0012229.1</text></g>
<g transform="rotate(247.660)"><rect x="152.75" y="-3.4" width="55.32" height="6.8" fill="#f9d8de" stroke="none"/><text transform="rotate(180)" x="-153.55" y="2.05" text-anchor="end" textLength="54.08" lengthAdjust="spacingAndGlyphs">ERF B1 AT5G18560.1</text></g>
<g transform="rotate(250.007)"><rect x="152.75" y="-3.4" width="38.84" height="6.8" fill="#f9d8de" stroke="none"/><text transform="rotate(180)" x="-153.55" y="2.05" text-anchor="end" textLength="37.27" lengthAdjust="spacingAndGlyphs">EVM0007953.1</text></g>
<g transform="rotate(252.355)"><rect x="152.75" y="-3.4" width="38.84" height="6.8" fill="#f9d8de" stroke="none"/><text transform="rotate(180)" x="-153.55" y="2.05" text-anchor="end" textLength="37.27" lengthAdjust="spacingAndGlyphs">EVM0013260.1</text></g>
<g transform="rotate(254.702)"><rect x="152.75" y="-3.4" width="55.32" height="6.8" fill="#ca1b6c" stroke="none"/><text transform="rotate(180)" x="-153.55" y="2.05" text-anchor="end" textLength="54.08" lengthAdjust="spacingAndGlyphs">ERF B6 AT1G43160.1</text></g>
<g transform="rotate(257.050)"><rect x="152.75" y="-3.4" width="38.84" height="6.8" fill="#ca1b6c" stroke="none"/><text transform="rotate(180)" x="-153.55" y="2.05" text-anchor="end" textLength="37.27" lengthAdjust="spacingAndGlyphs">EVM0024319.1</text></g>
<g transform="rotate(259.397)"><rect x="152.75" y="-3.4" width="38.84" height="6.8" fill="#ca1b6c" stroke="none"/><text transform="rotate(180)" x="-153.55" y="2.05" text-anchor="end" textLength="37.27" lengthAdjust="spacingAndGlyphs">EVM0004961.1</text></g>
<g transform="rotate(261.745)"><rect x="152.75" y="-3.4" width="38.84" height="6.8" fill="#ca1b6c" stroke="none"/><text transform="rotate(180)" x="-153.55" y="2.05" text-anchor="end" textLength="37.27" lengthAdjust="spacingAndGlyphs">EVM0010332.1</text></g>
<g transform="rotate(264.092)"><rect x="152.75" y="-3.4" width="38.84" height="6.8" fill="#ca1b6c" stroke="none"/><text transform="rotate(180)" x="-153.55" y="2.05" text-anchor="end" textLength="37.27" lengthAdjust="spacingAndGlyphs">EVM0005941.1</text></g>
<g transform="rotate(266.440)"><rect x="152.75" y="-3.4" width="55.32" height="6.8" fill="#ca1b6c" stroke="none"/><text transform="rotate(180)" x="-153.55" y="2.05" text-anchor="end" textLength="54.08" lengthAdjust="spacingAndGlyphs">ERF B6 AT2G22200.1</text></g>
<g transform="rotate(268.788)"><rect x="152.75" y="-3.4" width="55.32" height="6.8" fill="#ca1b6c" stroke="none"/><text transform="rotate(180)" x="-153.55" y="2.05" text-anchor="end" textLength="54.08" lengthAdjust="spacingAndGlyphs">ERF B6 AT1G68550.1</text></g>
<g transform="rotate(271.135)"><rect x="152.75" y="-3.4" width="55.32" height="6.8" fill="#ca1b6c" stroke="none"/><text x="153.55" y="2.05" textLength="54.08" lengthAdjust="spacingAndGlyphs">ERF B6 AT1G25470.1</text></g>
<g transform="rotate(273.483)"><rect x="152.75" y="-3.4" width="38.84" height="6.8" fill="#fc0a8a" stroke="none"/><text x="153.55" y="2.05" textLength="37.27" lengthAdjust="spacingAndGlyphs">EVM0028203.1</text></g>
<g transform="rotate(275.830)"><rect x="152.75" y="-3.4" width="38.84" height="6.8" fill="#fc0a8a" stroke="none"/><text x="153.55" y="2.05" textLength="37.27" lengthAdjust="spacingAndGlyphs">EVM0012548.1</text></g>
<g transform="rotate(278.178)"><rect x="152.75" y="-3.4" width="55.32" height="6.8" fill="#fc0a8a" stroke="none"/><text x="153.55" y="2.05" textLength="54.08" lengthAdjust="spacingAndGlyphs">ERF B5 AT2G25820.1</text></g>
<g transform="rotate(280.525)"><rect x="152.75" y="-3.4" width="38.84" height="6.8" fill="#fc0a8a" stroke="none"/><text x="153.55" y="2.05" textLength="37.27" lengthAdjust="spacingAndGlyphs">EVM0027065.1</text></g>
<g transform="rotate(282.873)"><rect x="152.75" y="-3.4" width="38.84" height="6.8" fill="#fc0a8a" stroke="none"/><text x="153.55" y="2.05" textLength="37.27" lengthAdjust="spacingAndGlyphs">EVM0019340.1</text></g>
<g transform="rotate(285.220)"><rect x="152.75" y="-3.4" width="54.74" height="6.8" fill="#fc0a8a" stroke="none"/><text x="153.55" y="2.05" textLength="53.48" lengthAdjust="spacingAndGlyphs">ERF B5 AT4G11140.1</text></g>
<g transform="rotate(287.567)"><rect x="152.75" y="-3.4" width="55.03" height="6.8" fill="#fc0a8a" stroke="none"/><text x="153.55" y="2.05" textLength="53.78" lengthAdjust="spacingAndGlyphs">ERF B5 AT1G71130.1</text></g>
<g transform="rotate(289.915)"><rect x="152.75" y="-3.4" width="55.32" height="6.8" fill="#fc0a8a" stroke="none"/><text x="153.55" y="2.05" textLength="54.08" lengthAdjust="spacingAndGlyphs">ERF B5 AT1G22810.1</text></g>
<g transform="rotate(292.262)"><rect x="152.75" y="-3.4" width="55.32" height="6.8" fill="#fc0a8a" stroke="none"/><text x="153.55" y="2.05" textLength="54.08" lengthAdjust="spacingAndGlyphs">ERF B5 AT5G18450.1</text></g>
<g transform="rotate(294.610)"><rect x="152.75" y="-3.4" width="38.84" height="6.8" fill="#fc0a8a" stroke="none"/><text x="153.55" y="2.05" textLength="37.27" lengthAdjust="spacingAndGlyphs">EVM0005065.1</text></g>
<g transform="rotate(296.957)"><rect x="152.75" y="-3.4" width="38.84" height="6.8" fill="#fc0a8a" stroke="none"/><text x="153.55" y="2.05" textLength="37.27" lengthAdjust="spacingAndGlyphs">EVM0010010.1</text></g>
<g transform="rotate(299.305)"><rect x="152.75" y="-3.4" width="55.32" height="6.8" fill="#fc0a8a" stroke="none"/><text x="153.55" y="2.05" textLength="54.08" lengthAdjust="spacingAndGlyphs">ERF B5 AT4G13620.1</text></g>
<g transform="rotate(301.653)"><rect x="152.75" y="-3.4" width="55.03" height="6.8" fill="#fc0a8a" stroke="none"/><text x="153.55" y="2.05" textLength="53.78" lengthAdjust="spacingAndGlyphs">ERF B5 AT5G11590.1</text></g>
<g transform="rotate(304.000)"><rect x="152.75" y="-3.4" width="38.84" height="6.8" fill="#fc0a8a" stroke="none"/><text x="153.55" y="2.05" textLength="37.27" lengthAdjust="spacingAndGlyphs">EVM0024908.1</text></g>
<g transform="rotate(306.347)"><rect x="152.75" y="-3.4" width="38.54" height="6.8" fill="#fc0a8a" stroke="none"/><text x="153.55" y="2.05" textLength="36.97" lengthAdjust="spacingAndGlyphs">EVM0032119.1</text></g>
<g transform="rotate(308.695)"><rect x="152.75" y="-3.4" width="38.84" height="6.8" fill="#f6a3a3" stroke="none"/><text x="153.55" y="2.05" textLength="37.27" lengthAdjust="spacingAndGlyphs">EVM0029153.1</text></g>
<g transform="rotate(311.043)"><rect x="152.75" y="-3.4" width="38.84" height="6.8" fill="#f6a3a3" stroke="none"/><text x="153.55" y="2.05" textLength="37.27" lengthAdjust="spacingAndGlyphs">EVM0026727.1</text></g>
<g transform="rotate(313.390)"><rect x="152.75" y="-3.4" width="38.84" height="6.8" fill="#f6a3a3" stroke="none"/><text x="153.55" y="2.05" textLength="37.27" lengthAdjust="spacingAndGlyphs">EVM0017087.1</text></g>
<g transform="rotate(315.738)"><rect x="152.75" y="-3.4" width="38.84" height="6.8" fill="#f6a3a3" stroke="none"/><text x="153.55" y="2.05" textLength="37.27" lengthAdjust="spacingAndGlyphs">EVM0036975.1</text></g>
<g transform="rotate(318.085)"><rect x="152.75" y="-3.4" width="55.32" height="6.8" fill="#f6a3a3" stroke="none"/><text x="153.55" y="2.05" textLength="54.08" lengthAdjust="spacingAndGlyphs">ERF B2 AT3G16770.1</text></g>
<g transform="rotate(320.433)"><rect x="152.75" y="-3.4" width="38.84" height="6.8" fill="#f6a3a3" stroke="none"/><text x="153.55" y="2.05" textLength="37.27" lengthAdjust="spacingAndGlyphs">EVM0024520.1</text></g>
<g transform="rotate(322.780)"><rect x="152.75" y="-3.4" width="55.32" height="6.8" fill="#f6a3a3" stroke="none"/><text x="153.55" y="2.05" textLength="54.08" lengthAdjust="spacingAndGlyphs">ERF B2 AT2G47520.1</text></g>
<g transform="rotate(325.127)"><rect x="152.75" y="-3.4" width="38.84" height="6.8" fill="#f6a3a3" stroke="none"/><text x="153.55" y="2.05" textLength="37.27" lengthAdjust="spacingAndGlyphs">EVM0014312.1</text></g>
<g transform="rotate(327.475)"><rect x="152.75" y="-3.4" width="38.84" height="6.8" fill="#f6a3a3" stroke="none"/><text x="153.55" y="2.05" textLength="37.27" lengthAdjust="spacingAndGlyphs">EVM0026047.2</text></g>
<g transform="rotate(329.822)"><rect x="152.75" y="-3.4" width="55.32" height="6.8" fill="#f6a3a3" stroke="none"/><text x="153.55" y="2.05" textLength="54.08" lengthAdjust="spacingAndGlyphs">ERF B2 AT1G53910.1</text></g>
<g transform="rotate(332.170)"><rect x="152.75" y="-3.4" width="55.32" height="6.8" fill="#f6a3a3" stroke="none"/><text x="153.55" y="2.05" textLength="54.08" lengthAdjust="spacingAndGlyphs">ERF B2 AT3G14230.1</text></g>
<g transform="rotate(334.517)"><rect x="152.75" y="-3.4" width="38.84" height="6.8" fill="#fcebeb" stroke="none"/><text x="153.55" y="2.05" textLength="37.27" lengthAdjust="spacingAndGlyphs">EVM0003974.1</text></g>
<g transform="rotate(336.865)"><rect x="152.75" y="-3.4" width="55.32" height="6.8" fill="#fcebeb" stroke="none"/><text x="153.55" y="2.05" textLength="54.08" lengthAdjust="spacingAndGlyphs">ERF B1 AT1G80580.1</text></g>
<g transform="rotate(339.212)"><rect x="152.75" y="-3.4" width="55.32" height="6.8" fill="#ff4d4d" stroke="none"/><text x="153.55" y="2.05" textLength="54.08" lengthAdjust="spacingAndGlyphs">ERF B3 AT4G18450.1</text></g>
<g transform="rotate(341.560)"><rect x="152.75" y="-3.4" width="38.84" height="6.8" fill="#ff4d4d" stroke="none"/><text x="153.55" y="2.05" textLength="37.27" lengthAdjust="spacingAndGlyphs">EVM0019313.1</text></g>
<g transform="rotate(343.908)"><rect x="152.75" y="-3.4" width="38.84" height="6.8" fill="#ff4d4d" stroke="none"/><text x="153.55" y="2.05" textLength="37.27" lengthAdjust="spacingAndGlyphs">EVM0025097.1</text></g>
<g transform="rotate(346.255)"><rect x="152.75" y="-3.4" width="55.32" height="6.8" fill="#ff4d4d" stroke="none"/><text x="153.55" y="2.05" textLength="54.08" lengthAdjust="spacingAndGlyphs">ERF B3 AT1G04370.1</text></g>
<g transform="rotate(348.602)"><rect x="152.75" y="-3.4" width="55.32" height="6.8" fill="#ff4d4d" stroke="none"/><text x="153.55" y="2.05" textLength="54.08" lengthAdjust="spacingAndGlyphs">ERF B3 AT3G23220.1</text></g>
<g transform="rotate(350.950)"><rect x="152.75" y="-3.4" width="38.84" height="6.8" fill="#ff4d4d" stroke="none"/><text x="153.55" y="2.05" textLength="37.27" lengthAdjust="spacingAndGlyphs">EVM0036392.1</text></g>
<g transform="rotate(353.298)"><rect x="152.75" y="-3.4" width="55.32" height="6.8" fill="#ff4d4d" stroke="none"/><text x="153.55" y="2.05" textLength="54.08" lengthAdjust="spacingAndGlyphs">ERF B3 AT3G23230.1</text></g>
<g transform="rotate(355.645)"><rect x="152.75" y="-3.4" width="38.84" height="6.8" fill="#ff4d4d" stroke="none"/><text x="153.55" y="2.05" textLength="37.27" lengthAdjust="spacingAndGlyphs">EVM0017483.1</text></g>
<g transform="rotate(357.993)"><rect x="152.75" y="-3.4" width="38.84" height="6.8" fill="#ff4d4d" stroke="none"/><text x="153.55" y="2.05" textLength="37.27" lengthAdjust="spacingAndGlyphs">EVM0028015.1</text></g>
<g transform="rotate(360.340)"><rect x="152.75" y="-3.4" width="38.84" height="6.8" fill="#ff4d4d" stroke="none"/><text x="153.55" y="2.05" textLength="37.27" lengthAdjust="spacingAndGlyphs">EVM0020169.1</text></g>
<g transform="rotate(362.688)"><rect x="152.75" y="-3.4" width="38.84" height="6.8" fill="#ff4d4d" stroke="none"/><text x="153.55" y="2.05" textLength="37.27" lengthAdjust="spacingAndGlyphs">EVM0004125.1</text></g>
<g transform="rotate(365.035)"><rect x="152.75" y="-3.4" width="38.84" height="6.8" fill="#ff4d4d" stroke="none"/><text x="153.55" y="2.05" textLength="37.27" lengthAdjust="spacingAndGlyphs">EVM0000808.1</text></g>
<g transform="rotate(367.382)"><rect x="152.75" y="-3.4" width="38.84" height="6.8" fill="#ff4d4d" stroke="none"/><text x="153.55" y="2.05" textLength="37.27" lengthAdjust="spacingAndGlyphs">EVM0021771.1</text></g>
<g transform="rotate(369.730)"><rect x="152.75" y="-3.4" width="55.32" height="6.8" fill="#ff4d4d" stroke="none"/><text x="153.55" y="2.05" textLength="54.08" lengthAdjust="spacingAndGlyphs">ERF B3 AT1G06160.1</text></g>
<g transform="rotate(372.077)"><rect x="152.75" y="-3.4" width="55.32" height="6.8" fill="#ff4d4d" stroke="none"/><text x="153.55" y="2.05" textLength="54.08" lengthAdjust="spacingAndGlyphs">ERF B3 AT2G31230.1</text></g>
<g transform="rotate(374.425)"><rect x="152.75" y="-3.4" width="38.84" height="6.8" fill="#ff4d4d" stroke="none"/><text x="153.55" y="2.05" textLength="37.27" lengthAdjust="spacingAndGlyphs">EVM0026004.1</text></g>
<g transform="rotate(376.773)"><rect x="152.75" y="-3.4" width="38.54" height="6.8" fill="#ff4d4d" stroke="none"/><text x="153.55" y="2.05" textLength="36.97" lengthAdjust="spacingAndGlyphs">EVM0032511.1</text></g>
<g transform="rotate(379.120)"><rect x="152.75" y="-3.4" width="38.84" height="6.8" fill="#ff4d4d" stroke="none"/><text x="153.55" y="2.05" textLength="37.27" lengthAdjust="spacingAndGlyphs">EVM0032149.1</text></g>
<g transform="rotate(381.467)"><rect x="152.75" y="-3.4" width="55.32" height="6.8" fill="#ff4d4d" stroke="none"/><text x="153.55" y="2.05" textLength="54.08" lengthAdjust="spacingAndGlyphs">ERF B3 AT2G33240.1</text></g>
<g transform="rotate(383.815)"><rect x="152.75" y="-3.4" width="38.84" height="6.8" fill="#ff4d4d" stroke="none"/><text x="153.55" y="2.05" textLength="37.27" lengthAdjust="spacingAndGlyphs">EVM0003547.1</text></g>
<g transform="rotate(386.163)"><rect x="152.75" y="-3.4" width="38.84" height="6.8" fill="#ff4d4d" stroke="none"/><text x="153.55" y="2.05" textLength="37.27" lengthAdjust="spacingAndGlyphs">EVM0031840.1</text></g>
<g transform="rotate(388.510)"><rect x="152.75" y="-3.4" width="38.84" height="6.8" fill="#ff4d4d" stroke="none"/><text x="153.55" y="2.05" textLength="37.27" lengthAdjust="spacingAndGlyphs">EVM0035142.1</text></g>
<g transform="rotate(390.858)"><rect x="152.75" y="-3.4" width="38.84" height="6.8" fill="#ff4d4d" stroke="none"/><text x="153.55" y="2.05" textLength="37.27" lengthAdjust="spacingAndGlyphs">EVM0031382.1</text></g>
<g transform="rotate(393.205)"><rect x="152.75" y="-3.4" width="55.32" height="6.8" fill="#ff4d4d" stroke="none"/><text x="153.55" y="2.05" textLength="54.08" lengthAdjust="spacingAndGlyphs">ERF B3 AT4G34410.1</text></g>
<g transform="rotate(395.553)"><rect x="152.75" y="-3.4" width="38.84" height="6.8" fill="#f9d8de" stroke="none"/><text x="153.55" y="2.05" textLength="37.27" lengthAdjust="spacingAndGlyphs">EVM0035397.1</text></g>
<g transform="rotate(397.900)"><rect x="152.75" y="-3.4" width="38.84" height="6.8" fill="#f9d8de" stroke="none"/><text x="153.55" y="2.05" textLength="37.27" lengthAdjust="spacingAndGlyphs">EVM0019498.1</text></g>
<g transform="rotate(400.248)"><rect x="152.75" y="-3.4" width="38.84" height="6.8" fill="#f9d8de" stroke="none"/><text x="153.55" y="2.05" textLength="37.27" lengthAdjust="spacingAndGlyphs">EVM0019856.1</text></g>
<g transform="rotate(402.595)"><rect x="152.75" y="-3.4" width="55.32" height="6.8" fill="#f9d8de" stroke="none"/><text x="153.55" y="2.05" textLength="54.08" lengthAdjust="spacingAndGlyphs">ERF B1 AT1G50640.1</text></g>
<g transform="rotate(404.942)"><rect x="152.75" y="-3.4" width="55.32" height="6.8" fill="#f9d8de" stroke="none"/><text x="153.55" y="2.05" textLength="54.08" lengthAdjust="spacingAndGlyphs">ERF B1 AT3G20310.1</text></g>
<g transform="rotate(407.290)"><rect x="152.75" y="-3.4" width="38.84" height="6.8" fill="#ff0000" stroke="none"/><text x="153.55" y="2.05" textLength="37.27" lengthAdjust="spacingAndGlyphs">EVM0033087.1</text></g>
<g transform="rotate(409.638)"><rect x="152.75" y="-3.4" width="38.54" height="6.8" fill="#ff0000" stroke="none"/><text x="153.55" y="2.05" textLength="36.97" lengthAdjust="spacingAndGlyphs">EVM0011573.1</text></g>
<g transform="rotate(411.985)"><rect x="152.75" y="-3.4" width="55.32" height="6.8" fill="#ff0000" stroke="none"/><text x="153.55" y="2.05" textLength="54.08" lengthAdjust="spacingAndGlyphs">ERF B4 AT1G71450.1</text></g>
<g transform="rotate(414.332)"><rect x="152.75" y="-3.4" width="55.32" height="6.8" fill="#ff0000" stroke="none"/><text x="153.55" y="2.05" textLength="54.08" lengthAdjust="spacingAndGlyphs">ERF B4 AT5G67190.1</text></g>
<g transform="rotate(416.680)"><rect x="152.75" y="-3.4" width="55.32" height="6.8" fill="#ff0000" stroke="none"/><text x="153.55" y="2.05" textLength="54.08" lengthAdjust="spacingAndGlyphs">ERF B4 AT1G22190.1</text></g>
<g transform="rotate(419.028)"><rect x="152.75" y="-3.4" width="38.84" height="6.8" fill="#ff0000" stroke="none"/><text x="153.55" y="2.05" textLength="37.27" lengthAdjust="spacingAndGlyphs">EVM0010816.1</text></g>
<g transform="rotate(421.375)"><rect x="152.75" y="-3.4" width="38.84" height="6.8" fill="#ff0000" stroke="none"/><text x="153.55" y="2.05" textLength="37.27" lengthAdjust="spacingAndGlyphs">EVM0024716.1</text></g>
<g transform="rotate(423.722)"><rect x="152.75" y="-3.4" width="55.32" height="6.8" fill="#ff0000" stroke="none"/><text x="153.55" y="2.05" textLength="54.08" lengthAdjust="spacingAndGlyphs">ERF B4 AT4G31060.1</text></g>
<g transform="rotate(426.070)"><rect x="152.75" y="-3.4" width="38.54" height="6.8" fill="#ff0000" stroke="none"/><text x="153.55" y="2.05" textLength="36.97" lengthAdjust="spacingAndGlyphs">EVM0016411.1</text></g>
<g transform="rotate(428.418)"><rect x="152.75" y="-3.4" width="38.84" height="6.8" fill="#ff0000" stroke="none"/><text x="153.55" y="2.05" textLength="37.27" lengthAdjust="spacingAndGlyphs">EVM0034271.1</text></g>
<g transform="rotate(430.765)"><rect x="152.75" y="-3.4" width="55.32" height="6.8" fill="#ff0000" stroke="none"/><text x="153.55" y="2.05" textLength="54.08" lengthAdjust="spacingAndGlyphs">ERF B4 AT1G22985.1</text></g>
<g transform="rotate(433.113)"><rect x="152.75" y="-3.4" width="55.32" height="6.8" fill="#ff0000" stroke="none"/><text x="153.55" y="2.05" textLength="54.08" lengthAdjust="spacingAndGlyphs">ERF B4 AT4G13040.1</text></g>
<g transform="rotate(435.460)"><rect x="152.75" y="-3.4" width="38.84" height="6.8" fill="#ff0000" stroke="none"/><text x="153.55" y="2.05" textLength="37.27" lengthAdjust="spacingAndGlyphs">EVM0023767.1</text></g>
<g transform="rotate(437.808)"><rect x="152.75" y="-3.4" width="38.84" height="6.8" fill="#ff0000" stroke="none"/><text x="153.55" y="2.05" textLength="37.27" lengthAdjust="spacingAndGlyphs">EVM0018790.1</text></g>
<g transform="rotate(440.155)"><rect x="152.75" y="-3.4" width="55.32" height="6.8" fill="#f9d8de" stroke="none"/><text x="153.55" y="2.05" textLength="54.08" lengthAdjust="spacingAndGlyphs">ERF B1 AT1G12980.1</text></g>
<g transform="rotate(442.502)"><rect x="152.75" y="-3.4" width="38.84" height="6.8" fill="#f9d8de" stroke="none"/><text x="153.55" y="2.05" textLength="37.27" lengthAdjust="spacingAndGlyphs">EVM0002488.1</text></g>
<g transform="rotate(444.850)"><rect x="152.75" y="-3.4" width="55.32" height="6.8" fill="#f9d8de" stroke="none"/><text x="153.55" y="2.05" textLength="54.08" lengthAdjust="spacingAndGlyphs">ERF B1 AT1G24590.1</text></g>
<g transform="rotate(447.197)"><rect x="152.75" y="-3.4" width="38.84" height="6.8" fill="#f9d8de" stroke="none"/><text x="153.55" y="2.05" textLength="37.27" lengthAdjust="spacingAndGlyphs">EVM0008621.1</text></g>
<g transform="rotate(449.545)"><rect x="152.75" y="-3.4" width="38.84" height="6.8" fill="#f9d8de" stroke="none"/><text x="153.55" y="2.05" textLength="37.27" lengthAdjust="spacingAndGlyphs">EVM0029775.1</text></g>
<g transform="rotate(451.893)"><rect x="152.75" y="-3.4" width="38.84" height="6.8" fill="#f9d8de" stroke="none"/><text transform="rotate(180)" x="-153.55" y="2.05" text-anchor="end" textLength="37.27" lengthAdjust="spacingAndGlyphs">EVM0032083.1</text></g>
<g transform="rotate(454.240)"><rect x="152.75" y="-3.4" width="55.32" height="6.8" fill="#f9d8de" stroke="none"/><text transform="rotate(180)" x="-153.55" y="2.05" text-anchor="end" textLength="54.08" lengthAdjust="spacingAndGlyphs">ERF B1 AT1G28360.1</text></g>
<g transform="rotate(456.587)"><rect x="152.75" y="-3.4" width="38.84" height="6.8" fill="#ff4d4d" stroke="none"/><text transform="rotate(180)" x="-153.55" y="2.05" text-anchor="end" textLength="37.27" lengthAdjust="spacingAndGlyphs">EVM0027078.1</text></g>
<g transform="rotate(458.935)"><rect x="152.75" y="-3.4" width="38.84" height="6.8" fill="#ff4d4d" stroke="none"/><text transform="rotate(180)" x="-153.55" y="2.05" text-anchor="end" textLength="37.27" lengthAdjust="spacingAndGlyphs">EVM0029797.1</text></g>
<g transform="rotate(461.283)"><rect x="152.75" y="-3.4" width="38.84" height="6.8" fill="#ff4d4d" stroke="none"/><text transform="rotate(180)" x="-153.55" y="2.05" text-anchor="end" textLength="37.27" lengthAdjust="spacingAndGlyphs">EVM0015724.1</text></g>
<g transform="rotate(463.630)"><rect x="152.75" y="-3.4" width="38.84" height="6.8" fill="#ff4d4d" stroke="none"/><text transform="rotate(180)" x="-153.55" y="2.05" text-anchor="end" textLength="37.27" lengthAdjust="spacingAndGlyphs">EVM0015624.1</text></g>
<g transform="rotate(465.978)"><rect x="152.75" y="-3.4" width="55.32" height="6.8" fill="#ff4d4d" stroke="none"/><text transform="rotate(180)" x="-153.55" y="2.05" text-anchor="end" textLength="54.08" lengthAdjust="spacingAndGlyphs">ERF B3 AT2G44840.1</text></g>
<g transform="rotate(468.325)"><rect x="152.75" y="-3.4" width="38.84" height="6.8" fill="#ff4d4d" stroke="none"/><text transform="rotate(180)" x="-153.55" y="2.05" text-anchor="end" textLength="37.27" lengthAdjust="spacingAndGlyphs">EVM0029432.1</text></g>
<g transform="rotate(470.673)"><rect x="152.75" y="-3.4" width="38.84" height="6.8" fill="#ff4d4d" stroke="none"/><text transform="rotate(180)" x="-153.55" y="2.05" text-anchor="end" textLength="37.27" lengthAdjust="spacingAndGlyphs">EVM0027510.1</text></g>
<g transform="rotate(473.020)"><rect x="152.75" y="-3.4" width="55.32" height="6.8" fill="#ff4d4d" stroke="none"/><text transform="rotate(180)" x="-153.55" y="2.05" text-anchor="end" textLength="54.08" lengthAdjust="spacingAndGlyphs">ERF B3 AT4G17500.1</text></g>
<g transform="rotate(475.368)"><rect x="152.75" y="-3.4" width="55.32" height="6.8" fill="#ff4d4d" stroke="none"/><text transform="rotate(180)" x="-153.55" y="2.05" text-anchor="end" textLength="54.08" lengthAdjust="spacingAndGlyphs">ERF B3 AT5G47220.1</text></g>
<g transform="rotate(477.715)"><rect x="152.75" y="-3.4" width="38.84" height="6.8" fill="#ff4d4d" stroke="none"/><text transform="rotate(180)" x="-153.55" y="2.05" text-anchor="end" textLength="37.27" lengthAdjust="spacingAndGlyphs">EVM0013782.1</text></g>
<g transform="rotate(480.062)"><rect x="152.75" y="-3.4" width="38.54" height="6.8" fill="#ff4d4d" stroke="none"/><text transform="rotate(180)" x="-153.55" y="2.05" text-anchor="end" textLength="36.97" lengthAdjust="spacingAndGlyphs">EVM0023117.1</text></g>
<g transform="rotate(482.410)"><rect x="152.75" y="-3.4" width="38.84" height="6.8" fill="#ff4d4d" stroke="none"/><text transform="rotate(180)" x="-153.55" y="2.05" text-anchor="end" textLength="37.27" lengthAdjust="spacingAndGlyphs">EVM0025785.1</text></g>
<g transform="rotate(484.758)"><rect x="152.75" y="-3.4" width="38.54" height="6.8" fill="#ff4d4d" stroke="none"/><text transform="rotate(180)" x="-153.55" y="2.05" text-anchor="end" textLength="36.97" lengthAdjust="spacingAndGlyphs">EVM0011477.1</text></g>
<g transform="rotate(487.105)"><rect x="152.75" y="-3.4" width="55.32" height="6.8" fill="#ff4d4d" stroke="none"/><text transform="rotate(180)" x="-153.55" y="2.05" text-anchor="end" textLength="54.08" lengthAdjust="spacingAndGlyphs">ERF B3 AT5G61600.1</text></g>
<g transform="rotate(489.452)"><rect x="152.75" y="-3.4" width="55.03" height="6.8" fill="#ff4d4d" stroke="none"/><text transform="rotate(180)" x="-153.55" y="2.05" text-anchor="end" textLength="53.78" lengthAdjust="spacingAndGlyphs">ERF B3 AT5G51190.1</text></g>
<g transform="rotate(491.800)"><rect x="152.75" y="-3.4" width="38.84" height="6.8" fill="#ff4d4d" stroke="none"/><text transform="rotate(180)" x="-153.55" y="2.05" text-anchor="end" textLength="37.27" lengthAdjust="spacingAndGlyphs">EVM0021259.1</text></g>
<g transform="rotate(494.148)"><rect x="152.75" y="-3.4" width="38.84" height="6.8" fill="#ff4d4d" stroke="none"/><text transform="rotate(180)" x="-153.55" y="2.05" text-anchor="end" textLength="37.27" lengthAdjust="spacingAndGlyphs">EVM0021979.1</text></g>
<g transform="rotate(496.495)"><rect x="152.75" y="-3.4" width="55.32" height="6.8" fill="#ff4d4d" stroke="none"/><text transform="rotate(180)" x="-153.55" y="2.05" text-anchor="end" textLength="54.08" lengthAdjust="spacingAndGlyphs">ERF B3 AT4G17490.1</text></g>
<g transform="rotate(498.842)"><rect x="152.75" y="-3.4" width="55.32" height="6.8" fill="#ff4d4d" stroke="none"/><text transform="rotate(180)" x="-153.55" y="2.05" text-anchor="end" textLength="54.08" lengthAdjust="spacingAndGlyphs">ERF B3 AT5G47230.1</text></g>
<g transform="rotate(501.190)"><rect x="152.75" y="-3.4" width="38.84" height="6.8" fill="#ff4d4d" stroke="none"/><text transform="rotate(180)" x="-153.55" y="2.05" text-anchor="end" textLength="37.27" lengthAdjust="spacingAndGlyphs">EVM0018957.1</text></g>
<g transform="rotate(503.538)"><rect x="152.75" y="-3.4" width="55.32" height="6.8" fill="#ff4d4d" stroke="none"/><text transform="rotate(180)" x="-153.55" y="2.05" text-anchor="end" textLength="54.08" lengthAdjust="spacingAndGlyphs">ERF B3 AT5G61590.1</text></g>
<g transform="rotate(505.885)"><rect x="152.75" y="-3.4" width="55.32" height="6.8" fill="#ff4d4d" stroke="none"/><text transform="rotate(180)" x="-153.55" y="2.05" text-anchor="end" textLength="54.08" lengthAdjust="spacingAndGlyphs">ERF B3 AT5G07580.1</text></g>
<g transform="rotate(508.232)"><rect x="152.75" y="-3.4" width="55.32" height="6.8" fill="#f9d8de" stroke="none"/><text transform="rotate(180)" x="-153.55" y="2.05" text-anchor="end" textLength="54.08" lengthAdjust="spacingAndGlyphs">ERF B1 AT1G03800.1</text></g>
<g transform="rotate(510.580)"><rect x="152.75" y="-3.4" width="55.32" height="6.8" fill="#f9d8de" stroke="none"/><text transform="rotate(180)" x="-153.55" y="2.05" text-anchor="end" textLength="54.08" lengthAdjust="spacingAndGlyphs">ERF B1 AT5G44210.1</text></g>
<g transform="rotate(512.928)"><rect x="152.75" y="-3.4" width="38.84" height="6.8" fill="#f9d8de" stroke="none"/><text transform="rotate(180)" x="-153.55" y="2.05" text-anchor="end" textLength="37.27" lengthAdjust="spacingAndGlyphs">EVM0019650.1</text></g>
<g transform="rotate(515.275)"><rect x="152.75" y="-3.4" width="55.32" height="6.8" fill="#f9d8de" stroke="none"/><text transform="rotate(180)" x="-153.55" y="2.05" text-anchor="end" textLength="54.08" lengthAdjust="spacingAndGlyphs">ERF B1 AT1G28370.1</text></g>
<g transform="rotate(517.623)"><rect x="152.75" y="-3.4" width="38.84" height="6.8" fill="#f9d8de" stroke="none"/><text transform="rotate(180)" x="-153.55" y="2.05" text-anchor="end" textLength="37.27" lengthAdjust="spacingAndGlyphs">EVM0018613.1</text></g>
<g transform="rotate(519.970)"><rect x="152.75" y="-3.4" width="38.84" height="6.8" fill="#f9d8de" stroke="none"/><text transform="rotate(180)" x="-153.55" y="2.05" text-anchor="end" textLength="37.27" lengthAdjust="spacingAndGlyphs">EVM0004053.1</text></g>
<g transform="rotate(522.317)"><rect x="152.75" y="-3.4" width="38.84" height="6.8" fill="#f9d8de" stroke="none"/><text transform="rotate(180)" x="-153.55" y="2.05" text-anchor="end" textLength="37.27" lengthAdjust="spacingAndGlyphs">EVM0026427.1</text></g>
<g transform="rotate(524.665)"><rect x="152.75" y="-3.4" width="38.84" height="6.8" fill="#f9d8de" stroke="none"/><text transform="rotate(180)" x="-153.55" y="2.05" text-anchor="end" textLength="37.27" lengthAdjust="spacingAndGlyphs">EVM0024664.1</text></g>
<g transform="rotate(527.013)"><rect x="152.75" y="-3.4" width="55.32" height="6.8" fill="#f9d8de" stroke="none"/><text transform="rotate(180)" x="-153.55" y="2.05" text-anchor="end" textLength="54.08" lengthAdjust="spacingAndGlyphs">ERF B1 AT1G53170.1</text></g>
<g transform="rotate(529.360)"><rect x="152.75" y="-3.4" width="55.32" height="6.8" fill="#f9d8de" stroke="none"/><text transform="rotate(180)" x="-153.55" y="2.05" text-anchor="end" textLength="54.08" lengthAdjust="spacingAndGlyphs">ERF B1 AT3G15210.1</text></g>
<g transform="rotate(531.707)"><rect x="152.75" y="-3.4" width="38.84" height="6.8" fill="#ca1b6c" stroke="none"/><text transform="rotate(180)" x="-153.55" y="2.05" text-anchor="end" textLength="37.27" lengthAdjust="spacingAndGlyphs">EVM0019590.1</text></g>
<g transform="rotate(534.055)"><rect x="152.75" y="-3.4" width="55.32" height="6.8" fill="#ca1b6c" stroke="none"/><text transform="rotate(180)" x="-153.55" y="2.05" text-anchor="end" textLength="54.08" lengthAdjust="spacingAndGlyphs">ERF B6 AT5G25190.1</text></g>
<g transform="rotate(536.403)"><rect x="152.75" y="-3.4" width="38.84" height="6.8" fill="#ca1b6c" stroke="none"/><text transform="rotate(180)" x="-153.55" y="2.05" text-anchor="end" textLength="37.27" lengthAdjust="spacingAndGlyphs">EVM0034272.1</text></g>
<g transform="rotate(538.750)"><rect x="152.75" y="-3.4" width="38.84" height="6.8" fill="#ca1b6c" stroke="none"/><text transform="rotate(180)" x="-153.55" y="2.05" text-anchor="end" textLength="37.27" lengthAdjust="spacingAndGlyphs">EVM0015416.1</text></g>
<g transform="rotate(541.097)"><rect x="152.75" y="-3.4" width="38.54" height="6.8" fill="#ca1b6c" stroke="none"/><text transform="rotate(180)" x="-153.55" y="2.05" text-anchor="end" textLength="36.97" lengthAdjust="spacingAndGlyphs">EVM0011527.1</text></g>
<g transform="rotate(543.445)"><rect x="152.75" y="-3.4" width="38.84" height="6.8" fill="#ca1b6c" stroke="none"/><text transform="rotate(180)" x="-153.55" y="2.05" text-anchor="end" textLength="37.27" lengthAdjust="spacingAndGlyphs">EVM0019301.1</text></g>
<g transform="rotate(545.793)"><rect x="152.75" y="-3.4" width="55.32" height="6.8" fill="#ca1b6c" stroke="none"/><text transform="rotate(180)" x="-153.55" y="2.05" text-anchor="end" textLength="54.08" lengthAdjust="spacingAndGlyphs">ERF B6 AT5G25390.1</text></g>
<g transform="rotate(548.140)"><rect x="152.75" y="-3.4" width="54.74" height="6.8" fill="#ca1b6c" stroke="none"/><text transform="rotate(180)" x="-153.55" y="2.05" text-anchor="end" textLength="53.48" lengthAdjust="spacingAndGlyphs">ERF B6 AT5G11190.1</text></g>
<g transform="rotate(550.488)"><rect x="152.75" y="-3.4" width="55.32" height="6.8" fill="#ca1b6c" stroke="none"/><text transform="rotate(180)" x="-153.55" y="2.05" text-anchor="end" textLength="54.08" lengthAdjust="spacingAndGlyphs">ERF B6 AT2G15360.1</text></g>
<g transform="rotate(552.835)"><rect x="152.75" y="-3.4" width="38.84" height="6.8" fill="#ca1b6c" stroke="none"/><text transform="rotate(180)" x="-153.55" y="2.05" text-anchor="end" textLength="37.27" lengthAdjust="spacingAndGlyphs">EVM0020805.1</text></g>
<g transform="rotate(555.183)"><rect x="152.75" y="-3.4" width="38.84" height="6.8" fill="#ca1b6c" stroke="none"/><text transform="rotate(180)" x="-153.55" y="2.05" text-anchor="end" textLength="37.27" lengthAdjust="spacingAndGlyphs">EVM0015677.1</text></g>
<g transform="rotate(557.530)"><rect x="152.75" y="-3.4" width="38.84" height="6.8" fill="#ca1b6c" stroke="none"/><text transform="rotate(180)" x="-153.55" y="2.05" text-anchor="end" textLength="37.27" lengthAdjust="spacingAndGlyphs">EVM0021318.1</text></g>
</g>
<g fill="none" stroke="#000" stroke-width="6.8" stroke-linecap="butt">
<path d="M80.63,156.23 A225.3,226.9 0 0 1 209.83,50.58"/>
<path d="M217.37,48.35 A225.3,226.9 0 0 1 279.56,40.21"/>
<path d="M287.03,40.42 A225.3,226.9 0 0 1 407.07,81.69"/>
<path d="M414.04,86.85 A225.3,226.9 0 0 1 475.38,159.18"/>
<path d="M479.35,166.92 A225.3,226.9 0 0 1 486.24,182.47"/>
<path d="M489.31,190.61 A225.3,226.9 0 0 1 463.10,395.29"/>
<path d="M458.31,402.07 A225.3,226.9 0 0 1 433.28,430.73"/>
<path d="M427.08,436.51 A225.3,226.9 0 0 1 322.50,489.37"/>
<path d="M314.15,490.93 A225.3,226.9 0 0 1 259.25,493.28"/>
<path d="M249.35,492.26 A225.3,226.9 0 0 1 90.20,393.65"/>
<path d="M85.51,386.33 A225.3,226.9 0 0 1 55.56,307.83"/>
<path d="M54.20,299.46 A225.3,226.9 0 0 1 62.93,196.98"/>
</g>
<g font-family="Liberation Sans, Arial, sans-serif" font-weight="bold" font-size="17.2" fill="#000" text-anchor="middle">
<text x="250.7" y="25.9">B6</text>
<text transform="translate(371.4,37.9) scale(1.05,1)">B5</text>
<text x="473.0" y="106.2">B2</text>
<text transform="translate(511.8,174.0) scale(0.93,1)">B1</text>
<text x="531.3" y="296.4">B3</text>
<text transform="translate(470.4,440.8) scale(0.93,1)">B1</text>
<text x="396.8" y="496.7">B4</text>
<text transform="translate(289.4,523.5) scale(0.93,1)">B1</text>
<text x="141.7" y="487.8">B3</text>
<text transform="translate(43.4,376.7) scale(0.93,1)">B1</text>
<text x="25.9" y="255.0">B6</text>
<text transform="translate(111.0,81.1) scale(0.93,1)">B1</text>
</g>
</g>
</svg></div>
</body></html>
